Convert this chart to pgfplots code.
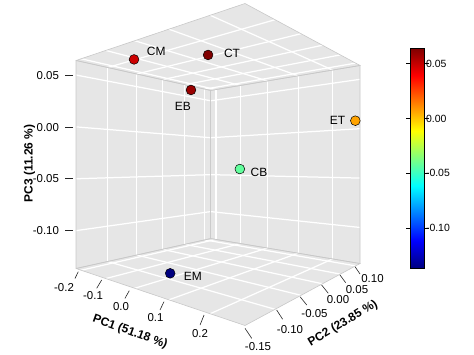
\documentclass[border=0pt]{standalone}
\usepackage{fontspec}
\setmainfont{Liberation Sans}
\usepackage{pgfplots}
\usepackage{pgfplotstable}
\pgfplotsset{compat=1.18}
\definecolor{panelc}{HTML}{E6E6E6}
\definecolor{edgec}{HTML}{C8C8C8}
\newcommand\ticksz{\fontsize{11.5}{13}\selectfont}
\newcommand\labsz{\fontsize{12}{14}\selectfont}
\newcommand\titsz{\bfseries\fontsize{12}{14}\selectfont}
\pgfplotsset{
  colormap={jetcol}{rgb255=(0,0,127) rgb255=(0,0,255) rgb255=(0,127,255) rgb255=(0,255,255) rgb255=(127,255,127) rgb255=(255,255,0) rgb255=(255,127,0) rgb255=(255,0,0) rgb255=(127,0,0)},
  table/proj/.style={x expr={PX(\thisrow{x},\thisrow{y})}, y expr={PY(\thisrow{x},\thisrow{y},\thisrow{z})}},
  table/segproj/.style={x expr={PX(\thisrow{xa},\thisrow{ya})}, y expr={PY(\thisrow{xa},\thisrow{ya},\thisrow{za})}},
  segplot/.style={quiver={u={PX(\thisrow{xb},\thisrow{yb})-PX(\thisrow{xa},\thisrow{ya})}, v={PY(\thisrow{xb},\thisrow{yb},\thisrow{zb})-PY(\thisrow{xa},\thisrow{ya},\thisrow{za})}}, mark=none},
  table/tickproj/.style={x expr={PX(\thisrow{xa},\thisrow{ya})+\thisrow{dxa}}, y expr={PY(\thisrow{xa},\thisrow{ya},\thisrow{za})+\thisrow{dya}}},
  tickplot/.style={quiver={u={\thisrow{dxb}-\thisrow{dxa}}, v={\thisrow{dyb}-\thisrow{dya}}}, mark=none},
}
% PCA scores: PC1, PC2, PC3
\pgfplotstableread{
label x y z
CM -0.002 -0.147 0.049
CT 0.045 -0.055 0.064
EB -0.223 0.065 0.059
ET 0.271 0.099 0.007
CB -0.102 0.116 -0.042
EM -0.024 -0.083 -0.1365
}\pcadata
% box panels (axis ranges)
\pgfplotstableread{
x y z
-0.223 -0.147 -0.1365
0.271 -0.147 -0.1365
0.271 0.116 -0.1365
-0.223 0.116 -0.1365
-0.223 -0.147 -0.1365
}\tabFloor
\pgfplotstableread{
x y z
-0.223 -0.147 0.064
0.271 -0.147 0.064
0.271 0.116 0.064
-0.223 0.116 0.064
-0.223 -0.147 0.064
}\tabCeil
\pgfplotstableread{
x y z
-0.223 -0.147 -0.1365
-0.223 0.116 -0.1365
-0.223 0.116 0.064
-0.223 -0.147 0.064
-0.223 -0.147 -0.1365
}\tabLeft
\pgfplotstableread{
x y z
-0.223 0.116 -0.1365
0.271 0.116 -0.1365
0.271 0.116 0.064
-0.223 0.116 0.064
-0.223 0.116 -0.1365
}\tabRight
% grid segments
\pgfplotstableread{
xa ya za xb yb zb
-0.2 -0.147 -0.1365 -0.2 0.116 -0.1365
-0.1 -0.147 -0.1365 -0.1 0.116 -0.1365
0 -0.147 -0.1365 0 0.116 -0.1365
0.1 -0.147 -0.1365 0.1 0.116 -0.1365
0.2 -0.147 -0.1365 0.2 0.116 -0.1365
-0.223 -0.1 -0.1365 0.271 -0.1 -0.1365
-0.223 -0.05 -0.1365 0.271 -0.05 -0.1365
-0.223 0 -0.1365 0.271 0 -0.1365
-0.223 0.05 -0.1365 0.271 0.05 -0.1365
-0.223 0.1 -0.1365 0.271 0.1 -0.1365
-0.2 -0.147 0.064 -0.2 0.116 0.064
-0.1 -0.147 0.064 -0.1 0.116 0.064
0 -0.147 0.064 0 0.116 0.064
0.1 -0.147 0.064 0.1 0.116 0.064
0.2 -0.147 0.064 0.2 0.116 0.064
-0.223 -0.1 0.064 0.271 -0.1 0.064
-0.223 -0.05 0.064 0.271 -0.05 0.064
-0.223 0 0.064 0.271 0 0.064
-0.223 0.05 0.064 0.271 0.05 0.064
-0.223 0.1 0.064 0.271 0.1 0.064
-0.223 -0.1 -0.1365 -0.223 -0.1 0.064
-0.223 -0.05 -0.1365 -0.223 -0.05 0.064
-0.223 0 -0.1365 -0.223 0 0.064
-0.223 0.05 -0.1365 -0.223 0.05 0.064
-0.223 0.1 -0.1365 -0.223 0.1 0.064
-0.223 -0.147 -0.1 -0.223 0.116 -0.1
-0.223 -0.147 -0.05 -0.223 0.116 -0.05
-0.223 -0.147 0 -0.223 0.116 0
-0.223 -0.147 0.05 -0.223 0.116 0.05
-0.2 0.116 -0.1365 -0.2 0.116 0.064
-0.1 0.116 -0.1365 -0.1 0.116 0.064
0 0.116 -0.1365 0 0.116 0.064
0.1 0.116 -0.1365 0.1 0.116 0.064
0.2 0.116 -0.1365 0.2 0.116 0.064
-0.223 0.116 -0.1 0.271 0.116 -0.1
-0.223 0.116 -0.05 0.271 0.116 -0.05
-0.223 0.116 0 0.271 0.116 0
-0.223 0.116 0.05 0.271 0.116 0.05
}\tabGrid
% tick marks (3D anchor + pixel offsets)
\pgfplotstableread{
xa ya za dxa dya dxb dyb
-0.223 -0.147 0.05 -3 0 -11 0
-0.223 -0.147 0 -3 0 -11 0
-0.223 -0.147 -0.05 -3 0 -11 0
-0.223 -0.147 -0.1 -3 0 -11 0
-0.2 -0.147 -0.1365 -2.9 1.5 -6.2 8.2
-0.1 -0.147 -0.1365 -4.1 1.4 -9.1 9.7
0 -0.147 -0.1365 -5.4 2.4 -9.7 10.1
0.1 -0.147 -0.1365 -4.9 1.9 -8.9 10.2
0.2 -0.147 -0.1365 -6.1 1.3 -10.1 11.3
0.271 -0.15 -0.1365 2.2 1.7 8.9 11.7
0.271 -0.1 -0.1365 1.6 0.7 7.6 10
0.271 -0.05 -0.1365 -1 1.4 5.7 9.7
0.271 0 -0.1365 -0.8 1.2 5.8 9.5
0.271 0.05 -0.1365 -0.4 0.9 5.3 8.6
0.271 0.1 -0.1365 -0.6 0.8 4.4 8.1
}\tabTicks
\begin{document}
\begin{tikzpicture}[declare function={
  uu(\x)=(\x+0.223)/0.494;
  vv(\y)=(\y+0.147)/0.263;
  ww(\z)=(\z+0.1365)/0.2005;
  dd(\x,\y)=1.548-0.548*\x+0.626*\y;
  PX(\x,\y)=(117.65+127.35*uu(\x)+340.4*vv(\y))/dd(uu(\x),vv(\y));
  PY(\x,\y,\z)=164.5-322*(ww(\z)-0.5)/dd(uu(\x),vv(\y));
}]
\begin{axis}[
  width=474bp, height=355bp, scale only axis,
  xmin=0, xmax=474, ymin=0, ymax=355, y dir=reverse,
  hide axis, clip=false,
  colormap name=jetcol,
  point meta min=-0.1365, point meta max=0.064,
  colorbar,
  colorbar style={
    at={(parent axis.south west)}, anchor=south west,
    xshift=401.7bp, yshift=86.7bp,
    width=14.3bp, height=220bp, scale only axis,
    y dir=normal,
    ytick={-0.1,-0.05,0,0.05},
    yticklabels={-0.10,-0.05,0.00,0.05},
    yticklabel style={font=\fontsize{10.5}{12}\selectfont, text=black, xshift=-6bp},
    tick align=outside, major tick length=4bp,
    ytick style={black, line width=0.5pt},
    axis line style={black, line width=0.5pt},
  },
]
\addplot[draw=none, mark=none] coordinates {(0,0) (474,355)};
% panels
\addplot[fill=panelc, draw=none] table[proj] {\tabFloor};
\addplot[fill=panelc, draw=none] table[proj] {\tabCeil};
\addplot[fill=panelc, draw=none] table[proj] {\tabLeft};
\addplot[fill=panelc, draw=none] table[proj] {\tabRight};
% grid
\addplot[white, line width=1.25pt, segplot] table[segproj] {\tabGrid};
% edges
\addplot[edgec, line width=0.6pt, mark=none] table[proj] {\tabFloor};
\addplot[edgec, line width=0.6pt, mark=none] table[proj] {\tabCeil};
\addplot[edgec, line width=0.6pt, mark=none] table[proj] {\tabLeft};
\addplot[edgec, line width=0.6pt, mark=none] table[proj] {\tabRight};
% ticks
\addplot[black!85, line width=0.6pt, tickplot] table[tickproj] {\tabTicks};
% points
\addplot[scatter, only marks, mark=*, mark size=4.9pt, point meta=explicit,
  scatter/use mapped color={draw=black, fill=mapped color},
  mark options={line width=0.5pt}] table[proj, meta=z] {\pcadata};
% point labels
\node[font=\labsz] at (axis cs:156.2,51.7) {CM};
\node[font=\labsz] at (axis cs:232,53.7) {CT};
\node[font=\labsz] at (axis cs:182.8,106.7) {EB};
\node[font=\labsz] at (axis cs:337.5,120) {ET};
\node[font=\labsz] at (axis cs:259,172.7) {CB};
\node[font=\labsz] at (axis cs:192.8,276.2) {EM};
% z tick labels
\node[anchor=east, font=\ticksz] at (axis cs:62.5,76) {0.05};
\node[anchor=east, font=\ticksz] at (axis cs:62.5,127.3) {0.00};
\node[anchor=east, font=\ticksz] at (axis cs:62.5,178.3) {-0.05};
\node[anchor=east, font=\ticksz] at (axis cs:62.5,231) {-0.10};
% PC1 tick labels
\node[font=\ticksz] at (axis cs:64,288) {-0.2};
\node[font=\ticksz] at (axis cs:93,296) {-0.1};
\node[font=\ticksz] at (axis cs:121,307) {0.0};
\node[font=\ticksz] at (axis cs:155.5,318) {0.1};
\node[font=\ticksz] at (axis cs:200,334) {0.2};
% PC2 tick labels
\node[font=\ticksz] at (axis cs:258,347) {-0.15};
\node[font=\ticksz] at (axis cs:290,330) {-0.10};
\node[font=\ticksz] at (axis cs:314.5,314) {-0.05};
\node[font=\ticksz] at (axis cs:338,300) {0.00};
\node[font=\ticksz] at (axis cs:357,289.5) {0.05};
\node[font=\ticksz] at (axis cs:372.5,278.3) {0.10};
% axis titles
\node[rotate=90, font=\titsz] at (axis cs:29.5,163.5) {PC3 (11.26 \%)};
\node[rotate=-20, font=\titsz] at (axis cs:130,332) {PC1 (51.18 \%)};
\node[rotate=31, font=\titsz] at (axis cs:343,323.5) {PC2 (23.85 \%)};
\end{axis}
\end{tikzpicture}
\end{document}
